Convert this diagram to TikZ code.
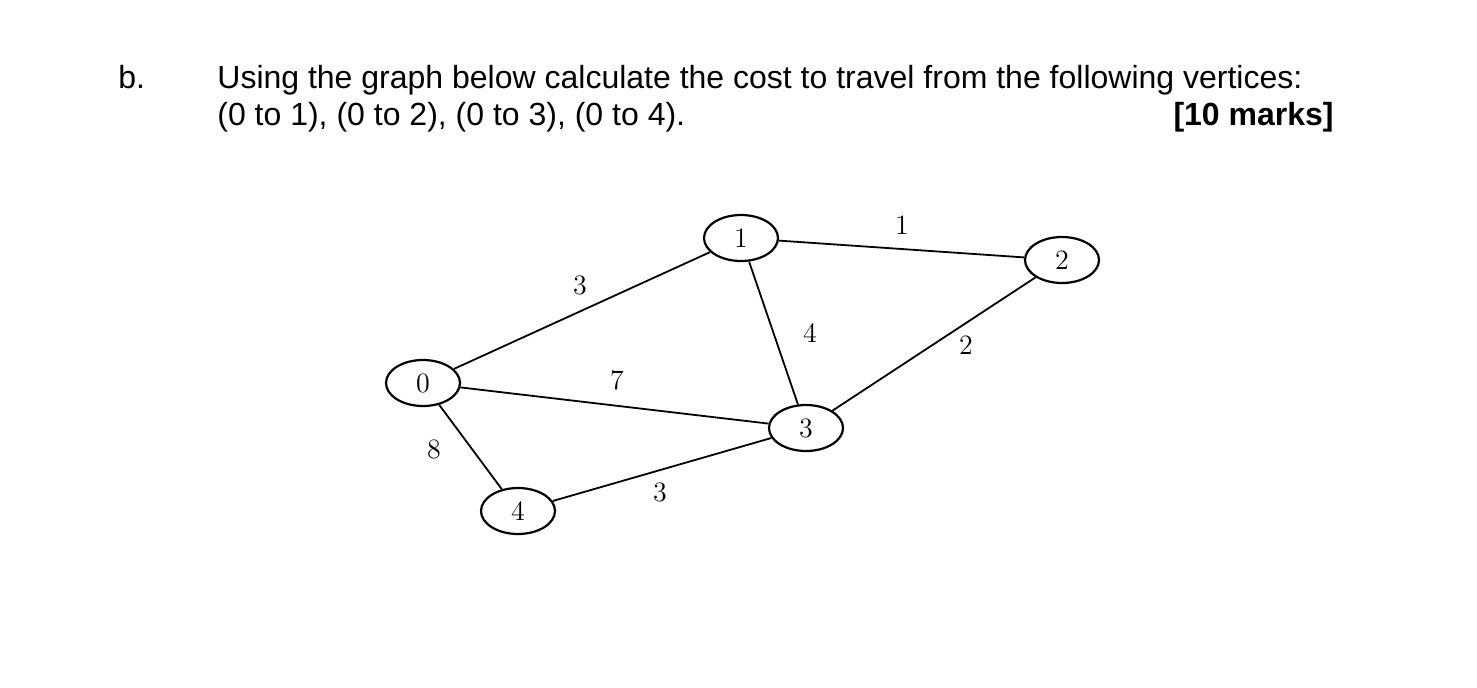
\documentclass[tikz,border=0pt]{standalone}
\usepackage{fontspec}
\newfontfamily\arial{Liberation Sans}
\usetikzlibrary{shapes.geometric}
\begin{document}
\begin{tikzpicture}[x=0.5pt,y=-0.5pt,
  vtx/.style={ellipse,draw,line width=1.1pt,minimum width=37pt,minimum height=23pt,inner sep=0pt,font=\fontsize{14}{15}\selectfont},
  edge/.style={line width=0.9pt},
  wt/.style={font=\fontsize{14}{15}\selectfont},
  hd/.style={font=\arial\fontsize{16}{18}\selectfont,anchor=base west,inner sep=0pt}]
\useasboundingbox (0,0) rectangle (1477,687);
\node[hd] (b) at (118,88) {b.};
\node[hd] (l1) at (217,88) {Using the graph below calculate the cost to travel from the following vertices:};
\node[hd] (l2) at (217,125) {(0 to 1), (0 to 2), (0 to 3), (0 to 4).};
\node[hd,anchor=base east,font=\arial\bfseries\fontsize{16}{18}\selectfont] (m) at (1334,125) {[10 marks]};
\node[vtx] (v0) at (423,383) {0};
\node[vtx] (v1) at (741,238) {1};
\node[vtx] (v2) at (1062,260) {2};
\node[vtx] (v3) at (806,428) {3};
\node[vtx] (v4) at (518,511) {4};
\draw[edge] (v0) -- (v1);
\draw[edge] (v0) -- (v3);
\draw[edge] (v0) -- (v4);
\draw[edge] (v4) -- (v3);
\draw[edge] (v1) -- (v3);
\draw[edge] (v1) -- (v2);
\draw[edge] (v3) -- (v2);
\node[wt] (w1) at (580,285) {3};
\node[wt] (w2) at (617,380) {7};
\node[wt] (w3) at (434,449) {8};
\node[wt] (w4) at (660,492) {3};
\node[wt] (w5) at (810,333) {4};
\node[wt] (w6) at (902,225) {1};
\node[wt] (w7) at (966,345) {2};
\end{tikzpicture}
\end{document}
